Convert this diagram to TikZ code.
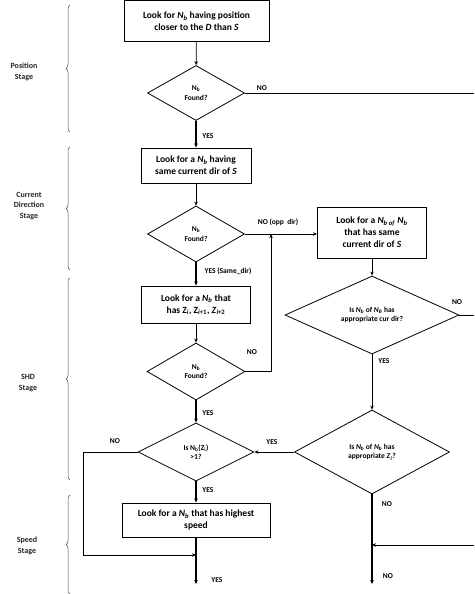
\documentclass[tikz,border=0pt]{standalone}
\usepackage{fontspec}
\setmainfont{Carlito}
\usetikzlibrary{shapes.geometric,arrows.meta,decorations.pathreplacing}
\newcommand{\Nb}{\textit{N}\textsubscript{\textit{b}}}
\newcommand{\Nbu}{N\textsubscript{b}}
\begin{document}
\begin{tikzpicture}[x=1pt,y=-1pt,
  box/.style={draw,line width=1pt,rectangle,inner sep=0pt,align=center,font=\bfseries\fontsize{9.5}{12}\selectfont},
  dia/.style={draw,line width=0.8pt,diamond,inner sep=0pt,align=center,font=\bfseries\fontsize{7.5}{9.5}\selectfont},
  lab/.style={font=\bfseries\fontsize{7.5}{9}\selectfont,inner sep=1pt},
  stage/.style={font=\bfseries\fontsize{8}{10.5}\selectfont,align=center,text=black!85},
  arr/.style={-{Stealth[length=4pt,width=3.5pt]},line width=0.8pt},
  tarr/.style={-{Stealth[length=4pt,width=3.5pt]},line width=1.4pt},
  ln/.style={line width=0.8pt},
  br/.style={decorate,decoration={brace,amplitude=4pt},line width=0.5pt,black!70}]
\useasboundingbox (0,0) rectangle (474,594);

% boxes
\node[box,minimum width=145pt,minimum height=41pt] (b1) at (196.5,21.5) {Look for \Nb{} having position\\closer to the \textit{D} than \textit{S}};
\node[box,minimum width=110pt,minimum height=35pt] (b2) at (196,165.5) {Look for a \Nb{} having\\same current dir of \textit{S}};
\node[box,minimum width=109pt,minimum height=51pt] (b3) at (372,232.5) {Look for a \textit{N}\textsubscript{\textit{b of}} \Nb\\that has same\\current dir of \textit{S}};
\node[box,minimum width=109pt,minimum height=37pt] (b4) at (196,304.5) {Look for a \Nb{} that\\has Z\textsubscript{\textit{i}}, Z\textsubscript{\textit{i}+1}, \textit{Z}\textsubscript{\textit{i}+2}};
\node[box,minimum width=148pt,minimum height=34pt] (b5) at (196,520) {Look for a \Nb{} that has highest\\speed};

% decisions
\node[dia,minimum width=97pt,minimum height=55pt] (q1) at (196,93) {\Nbu\\Found?};
\node[dia,minimum width=97pt,minimum height=56pt] (q2) at (196,234) {\Nbu\\Found?};
\node[dia,minimum width=98pt,minimum height=57pt] (q3) at (196,371.5) {\Nbu\\Found?};
\node[dia,minimum width=174pt,minimum height=72pt] (qc) at (372,315) {Is \Nb{} of \textit{N}\textsubscript{\textit{B}} has\\appropriate cur dir?};
\node[dia,minimum width=155pt,minimum height=84pt] (qz) at (372,452) {Is \Nb{} of \Nb{} has\\appropriate \textit{Z}\textsubscript{\textit{i}}?};
\node[dia,minimum width=116pt,minimum height=58pt] (qn) at (196,452) {Is \Nbu(Z\textsubscript{i})\\\textgreater1?};

% free ends
\coordinate (e1) at (474,93);
\coordinate (e2) at (474,315);
\coordinate (e3) at (474,545);
\coordinate (j1) at (372,545);
\coordinate (m1) at (271,371.5);
\coordinate (m2) at (271,234);
\coordinate (l1) at (83,452);
\coordinate (l2) at (83,555);
\coordinate (l3) at (196,555);
\coordinate (f1) at (196,584);
\coordinate (f2) at (372,584);

% connectors
\draw[arr] (b1) -- (q1);
\draw[ln] (q1.east) -- (e1);
\node[lab] at (262,88) {NO};
\draw[tarr] (q1) -- (b2);
\node[lab] at (208,136) {YES};
\draw[arr] (b2) -- (q2);
\draw[arr] (q2.east) -- (b3.west |- q2.east);
\node[lab] at (278,222) {NO (opp\ \ dir)};
\draw[tarr] (q2) -- (b4);
\node[lab] at (228,271) {YES (Same\_dir)};
\draw[arr] (b4) -- (q3);
\draw[ln] (q3.east) -- (m1);
\draw[arr] (m1) -- (m2);
\node[lab] at (252,352) {NO};
\draw[tarr] (q3) -- (qn);
\node[lab] at (208,413) {YES};
\draw[arr] (b3) -- (qc);
\draw[ln] (qc.east) -- (e2);
\node[lab] at (457,302) {NO};
\draw[arr] (qc) -- (qz);
\node[lab] at (384,361) {YES};
\draw[arr] (qz.west) -- (qn.east);
\node[lab] at (272,442) {YES};
\draw[tarr] (qz.south) -- (f2);
\node[lab] at (387,504) {NO};
\node[lab] at (388,576) {NO};
\draw[arr] (e3) -- (j1);
\draw[ln] (qn.west) -- (l1) -- (l2);
\draw[arr] (l2) -- (l3);
\node[lab] at (115,441) {NO};
\draw[tarr] (qn) -- (b5);
\node[lab] at (208,490) {YES};
\draw[tarr] (b5.south) -- (f1);
\node[lab] at (217,580) {YES};

% stage braces
\draw[br] (70,132) -- (70,5);
\node[stage] at (24,72) {Position\\Stage};
\draw[br] (70,270) -- (70,147);
\node[stage] at (29,206) {Current\\Direction\\Stage};
\draw[br] (70,480) -- (70,278);
\node[stage] at (28,383) {SHD\\Stage};
\draw[br] (70,594) -- (70,495);
\node[stage] at (27,546) {Speed\\Stage};
\end{tikzpicture}
\end{document}
